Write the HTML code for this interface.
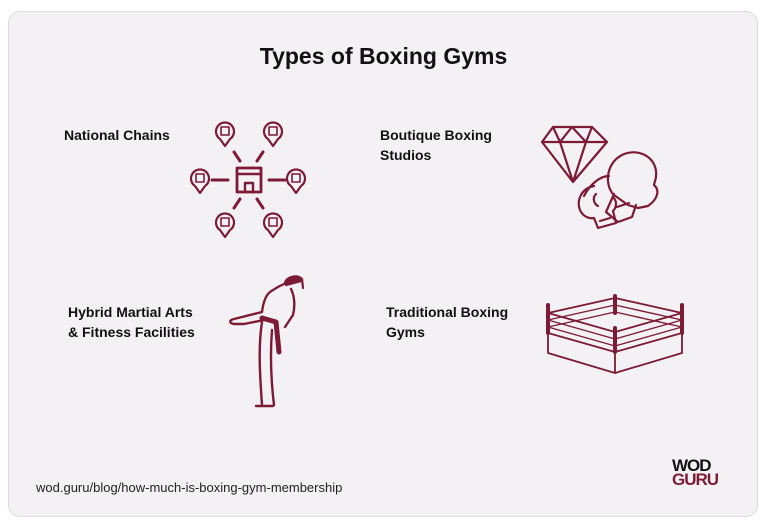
<!DOCTYPE html>
<html><head><style>
body{margin:0;width:767px;height:527px;background:#fff;font-family:"Liberation Sans",sans-serif;position:relative;overflow:hidden}
.card{position:absolute;left:8px;top:11px;width:750px;height:506px;background:#f3f1f4;border:1px solid #dcdadd;border-radius:12px;box-sizing:border-box}
.t{position:absolute;font-weight:bold;color:#111;font-size:14px;line-height:20px}
</style></head><body>
<div class="card"></div>
<div class="t" style="left:0;width:767px;text-align:center;top:42px;font-size:23px;line-height:28px">Types of Boxing Gyms</div>
<div class="t" style="left:64px;top:125px">National Chains</div>
<div class="t" style="left:380px;top:125px;width:130px">Boutique Boxing<br>Studios</div>
<div class="t" style="left:68px;top:302px">Hybrid Martial Arts<br>&amp; Fitness Facilities</div>
<div class="t" style="left:386px;top:302px">Traditional Boxing<br>Gyms</div>
<div style="position:absolute;left:36px;top:480px;font-size:13px;color:#222">wod.guru/blog/how-much-is-boxing-gym-membership</div>
<div style="position:absolute;left:672px;top:459px;font-weight:900;font-size:17px;line-height:14px;letter-spacing:-1px"><div style="color:#111">WOD</div><div style="color:#7d1a35">GURU</div></div>
<svg width="767" height="527" style="position:absolute;left:0;top:0" fill="none" stroke="#7d1a35" stroke-width="2.2" stroke-linecap="round" stroke-linejoin="round">
<defs><g id="pin"><path d="M0 15 L-5 8 A9 9 0 1 1 5 8 Z"/><rect x="-4" y="-4" width="8" height="8" stroke-width="1.6"/></g></defs>
<use href="#pin" x="225" y="131"/><use href="#pin" x="273" y="131"/><use href="#pin" x="200" y="178"/><use href="#pin" x="296" y="178"/><use href="#pin" x="225" y="222"/><use href="#pin" x="273" y="222"/>
<rect x="237" y="168" width="24" height="24" stroke-width="2.8"/><path d="M237 174h24M245 192v-9h8v9" stroke-width="2.4"/>
<path d="M234 152l6 9M263 152l-6 9M212 180h16M269 180h16M234 208l6-9M263 208l-6-9" stroke-width="3"/>
<path d="M553 127h39l15 15-34 40-31-40zM542 142h65M553 127l7 15 13 40 13-40 6-15M560 142l12-15 14 15"/>
<path d="M614 195c-10-10-8-32 8-40 14-7 32 0 34 16 1 8-2 12-2 14 6 5 4 14-6 21l-10 2-10-3z"/>
<path d="M609 176c-10 0-20 10-25 20"/>
<path d="M614 194l-8 18 12 10 14-5 4-12"/><path d="M617 207l12-4"/>
<path d="M594 186c-12 2-18 14-14 24 3 7 10 9 14 8l4 10 18-5-3-12c4-4 4-10 0-14"/>
<path d="M598 206c-4-2-6-8-2-12M600 221l10-3"/>
<path d="M548 313l67-15 67 15-67 19z" stroke-width="1.8"/>
<path d="M548 320l67-15 67 15-67 19zM548 327l67-15 67 15-67 19z" stroke-width="1.4"/>
<path d="M548 313v40l67 20 67-20v-40M615 332v41M548 333l67 19 67-19" stroke-width="1.8"/>
<path d="M548 305v28M682 305v28M615 296v17M615 328v24" stroke-width="4"/>
<path d="M290 282c-8 2-14 6-20 10-5 4-7 12-8 20l-28 7c-5 1-5 4 0 5h10l20-4M291 289c4 8 4 18 2 26l-8 12M262 322c-4 25-2 55 0 83M272 330c-2 25-1 50 2 75M256 406h17" stroke-width="2.4"/>
<path d="M262 318l14 4 3 30" stroke-width="5"/>
<path d="M285 283c1-6 12-9 17-4l1 9" />
<path d="M286 283c2-5 11-7 15-2l-15 4z" fill="#7d1a35"/>
</svg>
</body></html>
